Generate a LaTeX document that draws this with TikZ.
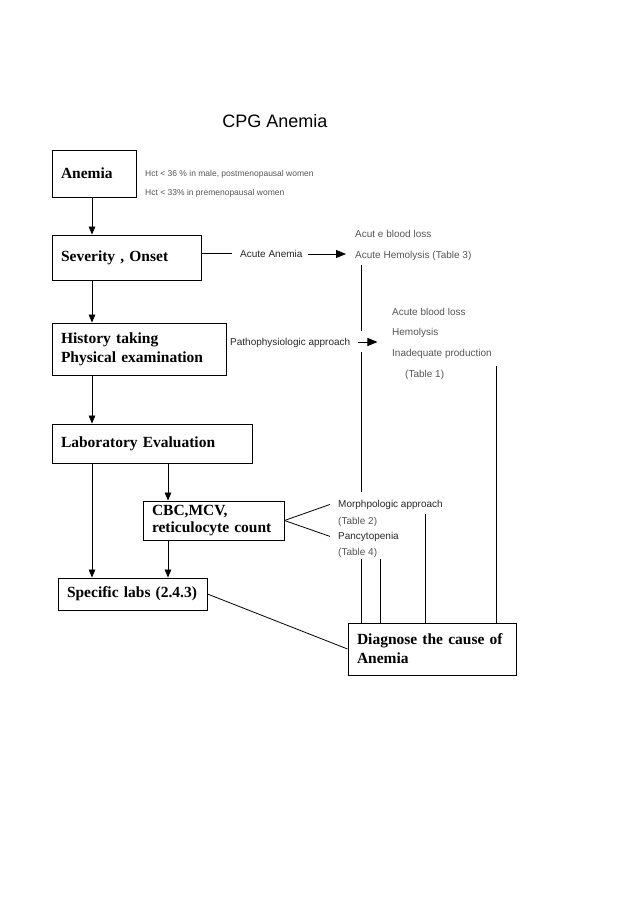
\documentclass[tikz,border=0pt]{standalone}
\usepackage{fontspec}
\setmainfont{Liberation Serif}
\setsansfont{Liberation Sans}
\usetikzlibrary{arrows.meta}
\definecolor{txtgray}{HTML}{555555}
\tikzset{
  flowbox/.style={draw, line width=0.9pt, inner xsep=9pt, inner ysep=0pt, anchor=center,
    align=left, font=\rmfamily\bfseries\fontsize{15.5}{19}\selectfont},
  smalltxt/.style={inner sep=0pt, anchor=base west, font=\sffamily\fontsize{8.5}{10}\selectfont, text=txtgray},
  graytxt/.style={inner sep=0pt, anchor=base west, font=\sffamily\fontsize{10}{12}\selectfont, text=txtgray},
  blacktxt/.style={inner sep=0pt, anchor=base west, font=\sffamily\fontsize{10}{12}\selectfont, text=black!85},
  conn/.style={line width=0.8pt},
  arr/.style={line width=0.8pt, -{Triangle[length=8pt,width=6.5pt]}},
  sidearr/.style={line width=0.8pt, -{Triangle[length=10pt,width=8pt]}},
}
\begin{document}
\begin{tikzpicture}[x=1pt,y=-1pt]
\useasboundingbox (0,0) rectangle (638,903);

\node[inner sep=0pt, anchor=base, font=\sffamily\fontsize{18}{21}\selectfont] (title) at (275,127) {CPG Anemia};

% boxes
\node[flowbox, minimum width=84pt, minimum height=47pt, text width=66pt] (anemia) at (94,173.5) {Anemia};
\node[flowbox, minimum width=149pt, minimum height=45pt, text width=131pt] (sev) at (126.5,257.5) {Severity , Onset};
\node[flowbox, minimum width=174pt, minimum height=52pt, text width=156pt] (hist) at (139,349) {History taking\\Physical examination};
\node[flowbox, minimum width=200pt, minimum height=39pt, text width=182pt] (lab) at (152,443.5) {Laboratory Evaluation};
\node[flowbox, minimum width=141pt, minimum height=39pt, text width=123pt, font=\rmfamily\bfseries\fontsize{15.5}{17}\selectfont] (cbc) at (213.5,520.5) {CBC,MCV,\\reticulocyte count};
\node[flowbox, minimum width=149pt, minimum height=32pt, text width=131pt] (spec) at (132.5,594) {Specific labs (2.4.3)};
\node[flowbox, minimum width=168pt, minimum height=52pt, text width=150pt] (diag) at (432,649) {Diagnose the cause of\\Anemia};

% texts
\node[smalltxt] (hct1) at (145,176.5) {Hct < 36 \% in male, postmenopausal women};
\node[smalltxt] (hct2) at (145,195.5) {Hct < 33\% in premenopausal women};
\node[graytxt] (acutblood) at (355,237.5) {Acut e blood loss};
\node[graytxt] (acutehemo) at (355,258) {Acute Hemolysis (Table 3)};
\node[blacktxt] (acuteanemia) at (240,257.5) {Acute Anemia};
\node[graytxt] (abl) at (392,315) {Acute blood loss};
\node[graytxt] (hemo) at (392,335.5) {Hemolysis};
\node[graytxt] (inad) at (392,356) {Inadequate production};
\node[graytxt] (tab1) at (405,377) {(Table 1)};
\node[blacktxt] (patho) at (230,345.5) {Pathophysiologic approach};
\node[blacktxt] (morph) at (338,507) {Morphpologic approach};
\node[graytxt] (tab2) at (338,524) {(Table 2)};
\node[blacktxt] (pancy) at (338,539) {Pancytopenia};
\node[graytxt] (tab4) at (338,555) {(Table 4)};

% coordinates
\coordinate (xa) at (92,0);
\coordinate (xb) at (168,0);
\coordinate (ya) at (0,253);
\coordinate (yb) at (0,254);
\coordinate (yc) at (0,342);
\coordinate (v1a) at (361,265);
\coordinate (v1b) at (361,331);
\coordinate (v2a) at (361,352);
\coordinate (v2b) at (361,492);
\coordinate (v3) at (361,559);
\coordinate (v4) at (380.5,559);
\coordinate (v5) at (425.7,514);
\coordinate (v6) at (496.5,366);

% main arrows
\draw[arr] (anemia.south -| xa) -- (sev.north -| xa);
\draw[arr] (sev.south -| xa) -- (hist.north -| xa);
\draw[arr] (hist.south -| xa) -- (lab.north -| xa);
\draw[arr] (lab.south -| xa) -- (spec.north -| xa);
\draw[arr] (lab.south -| xb) -- (cbc.north -| xb);
\draw[arr] (cbc.south -| xb) -- (spec.north -| xb);

% acute anemia
\draw[conn] (sev.east |- ya) -- ([xshift=-8pt]acuteanemia.west |- ya);
\draw[sidearr] ([xshift=5pt]acuteanemia.east |- yb) -- ([xshift=-9pt]acutehemo.west |- yb);
% pathophysiologic
\draw[sidearr] ([xshift=8pt]patho.east |- yc) -- ([xshift=27pt]patho.east |- yc);
% vertical lines
\draw[conn] (v1a) -- (v1b);
\draw[conn] (v2a) -- (v2b);
\draw[conn] (v3) -- (diag.north -| v3);
\draw[conn] (v4) -- (diag.north -| v4);
\draw[conn] (v5) -- (diag.north -| v5);
\draw[conn] (v6) -- (diag.north -| v6);
% cbc branches
\draw[conn] (cbc.east) -- ([xshift=-8pt]morph.west);
\draw[conn] (cbc.east) -- ([xshift=-8pt]pancy.west);
% specific labs to diagnose
\draw[conn] (spec.east) -- (diag.west);
\end{tikzpicture}
\end{document}
